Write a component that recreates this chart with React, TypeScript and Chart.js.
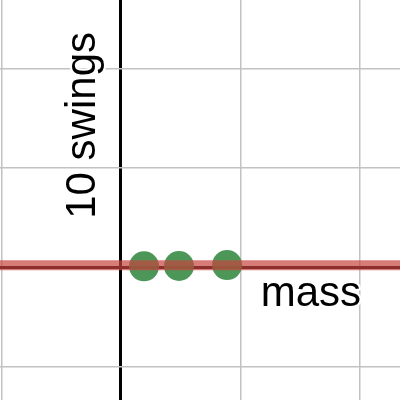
import { useEffect, useRef } from "react";
import { Chart, registerables } from "chart.js";
Chart.register(...registerables);

// measured data (grid step = 1 unit on both axes)
const massValues = [0.193, 0.486, 0.889];
const swingValues = [0.012, 0.015, 0.025];
const fitLineX = [-2, 3];
const fitLineY = [0.023, 0.023];
const xRange = [-1.0142, 2.3386];
const yRange = [-1.3343, 2.6939];
const xLabel = "mass";
const yLabel = "10 swings";

const gridColor = (ctx: any) => (ctx.tick && ctx.tick.value === 0 ? "#000" : "#c2c2c2");
const gridWidth = (ctx: any) => (ctx.tick && ctx.tick.value === 0 ? 3 : 1.5);

const labelPlugin = {
  id: "axisLabels",
  afterDraw(chart: any) {
    const { ctx, scales } = chart;
    const x0 = scales.x.getPixelForValue(0);
    const y0 = scales.y.getPixelForValue(0);
    ctx.save();
    ctx.font = "42px 'Liberation Sans', Arial, sans-serif";
    ctx.fillStyle = "#000";
    ctx.strokeStyle = "#fff";
    ctx.lineWidth = 4;
    ctx.lineJoin = "round";
    // x label, under the axis at the right
    ctx.textAlign = "right";
    ctx.textBaseline = "alphabetic";
    const xr = chart.chartArea.right - 39;
    ctx.strokeText(xLabel, xr, y0 + 38.5);
    ctx.fillText(xLabel, xr, y0 + 38.5);
    // y label, rotated, left of the axis near the top
    ctx.translate(x0 - 26, chart.chartArea.top + 32);
    ctx.rotate(-Math.PI / 2);
    ctx.textAlign = "right";
    ctx.strokeText(yLabel, 0, 0);
    ctx.fillText(yLabel, 0, 0);
    ctx.restore();
  },
};

export default function App() {
  const ref = useRef<HTMLCanvasElement>(null);

  useEffect(() => {
    if (!ref.current) return;
    const chart = new Chart(ref.current, {
      type: "scatter",
      data: {
        datasets: [
          {
            type: "line",
            data: fitLineX.map((x, i) => ({ x, y: fitLineY[i] })),
            borderColor: "rgba(199,68,64,0.7)",
            borderWidth: 10,
            pointRadius: 0,
            fill: false,
          },
          {
            data: massValues.map((x, i) => ({ x, y: swingValues[i] })),
            backgroundColor: "rgba(56,140,70,0.9)",
            borderWidth: 0,
            pointRadius: 15,
            pointHoverRadius: 15,
          },
        ],
      },
      options: {
        responsive: false,
        animation: false,
        layout: { padding: 0, autoPadding: false },
        plugins: { legend: { display: false }, tooltip: { enabled: false } },
        events: [],
        scales: {
          x: {
            type: "linear",
            min: xRange[0],
            max: xRange[1],
            ticks: { display: false, stepSize: 1, includeBounds: false },
            grid: { color: gridColor, lineWidth: gridWidth, drawTicks: false },
            border: { display: false },
            afterFit: (s: any) => { s.height = 0; },
          },
          y: {
            type: "linear",
            min: yRange[0],
            max: yRange[1],
            ticks: { display: false, stepSize: 1, includeBounds: false },
            grid: { color: gridColor, lineWidth: gridWidth, drawTicks: false },
            border: { display: false },
            afterFit: (s: any) => { s.width = 0; },
          },
        },
      },
      plugins: [labelPlugin],
    });
    return () => chart.destroy();
  }, []);

  return (
    <div style={{ position: "fixed", left: 0, top: 0, width: 400, height: 400, background: "#fff" }}>
      <canvas ref={ref} width={400} height={400} />
    </div>
  );
}
